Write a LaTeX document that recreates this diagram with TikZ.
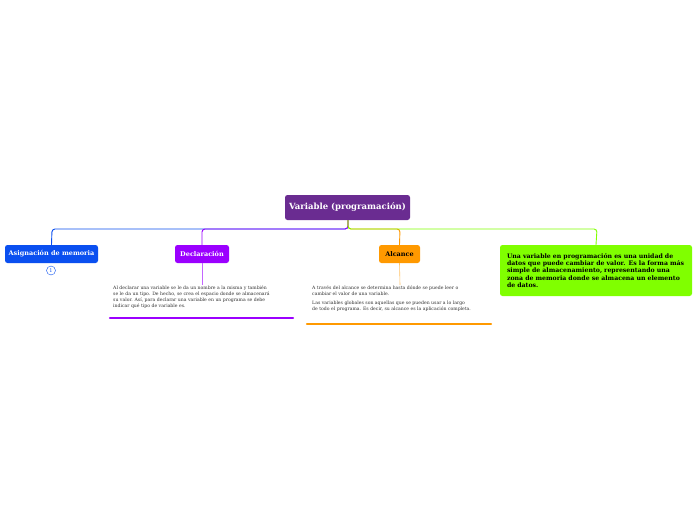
\documentclass[tikz,border=0pt]{standalone}
\usepackage{fontspec}
\setmainfont{DejaVu Serif}
\begin{document}
\begin{tikzpicture}[x=1pt,y=-1pt,
  box/.style={rounded corners=2.5pt,inner sep=0pt,font=\bfseries\fontsize{6.5}{8}\selectfont,text=white},
  small/.style={font=\fontsize{4.6}{5.9}\selectfont,align=left,anchor=north west,inner sep=0pt,text=black!80},
  conn/.style={line width=0.9pt,rounded corners=3pt}]
\useasboundingbox[fill=white] (0,0) rectangle (696,520);
\definecolor{rootc}{HTML}{6A2C91}
\definecolor{bluec}{HTML}{0A4FF0}
\definecolor{purc}{HTML}{9B00FF}
\definecolor{orc}{HTML}{FF9900}
\definecolor{grc}{HTML}{80FF00}
\node[box,fill=rootc,minimum width=125pt,minimum height=25pt,font=\bfseries\fontsize{8.5}{10}\selectfont] (root) at (347.5,207.5) {Variable (programación)};
\node[box,fill=bluec,minimum width=93pt,minimum height=18pt] (asig) at (51.5,254) {Asignación de memoria};
\node[draw=bluec,circle,inner sep=0pt,minimum size=9pt,font=\fontsize{5}{6}\selectfont,text=bluec,line width=0.4pt] (one) at (51,270.5) {1};
\node[box,fill=purc,minimum width=54pt,minimum height=18pt] (decl) at (202,254) {Declaración};
\node[box,fill=orc,minimum width=41pt,minimum height=18pt,text=black] (alc) at (399.5,254) {Alcance};
\node[box,fill=grc,minimum width=192pt,minimum height=51pt,text=black,text width=178pt,align=left,font=\bfseries\fontsize{6.2}{7.3}\selectfont] (def) at (596,270.5) {Una variable en programación es una unidad de datos que puede cambiar de valor. Es la forma más simple de almacenamiento, representando una zona de memoria donde se almacena un elemento de datos.};
\coordinate (rb) at (348,220);
\draw[conn,bluec] (rb) -- (348,229) -- (52,229) -- (asig.north);
\draw[conn,purc] (rb) -- (348,229) -- (202,229) -- (decl.north);
\draw[conn,orc] (rb) -- (348,229) -- (400,229) -- (alc.north);
\draw[conn,grc] (rb) -- (348,229) -- (597,229) -- (def.north);
\node[small] (dtext) at (113,286) {Al declarar una variable se le da un nombre a la misma y también\\se le da un tipo. De hecho, se crea el espacio donde se almacenará\\su valor. Así, para declarar una variable en un programa se debe\\indicar qué tipo de variable es.};
\node[small] (atext) at (312,286) {A través del alcance se determina hasta dónde se puede leer o\\cambiar el valor de una variable.\\[3pt]Las variables globales son aquellas que se pueden usar a lo largo\\de todo el programa. Es decir, su alcance es la aplicación completa.};
\draw[purc!60,line width=0.6pt] (decl.south) -- (202,285);
\draw[orc!60,line width=0.6pt] (alc.south) -- (400,285);
\draw[purc,line width=2.2pt,line cap=round] (110,318) -- (293,318);
\draw[orc,line width=2.2pt,line cap=round] (307,324) -- (491,324);
\end{tikzpicture}
\end{document}
